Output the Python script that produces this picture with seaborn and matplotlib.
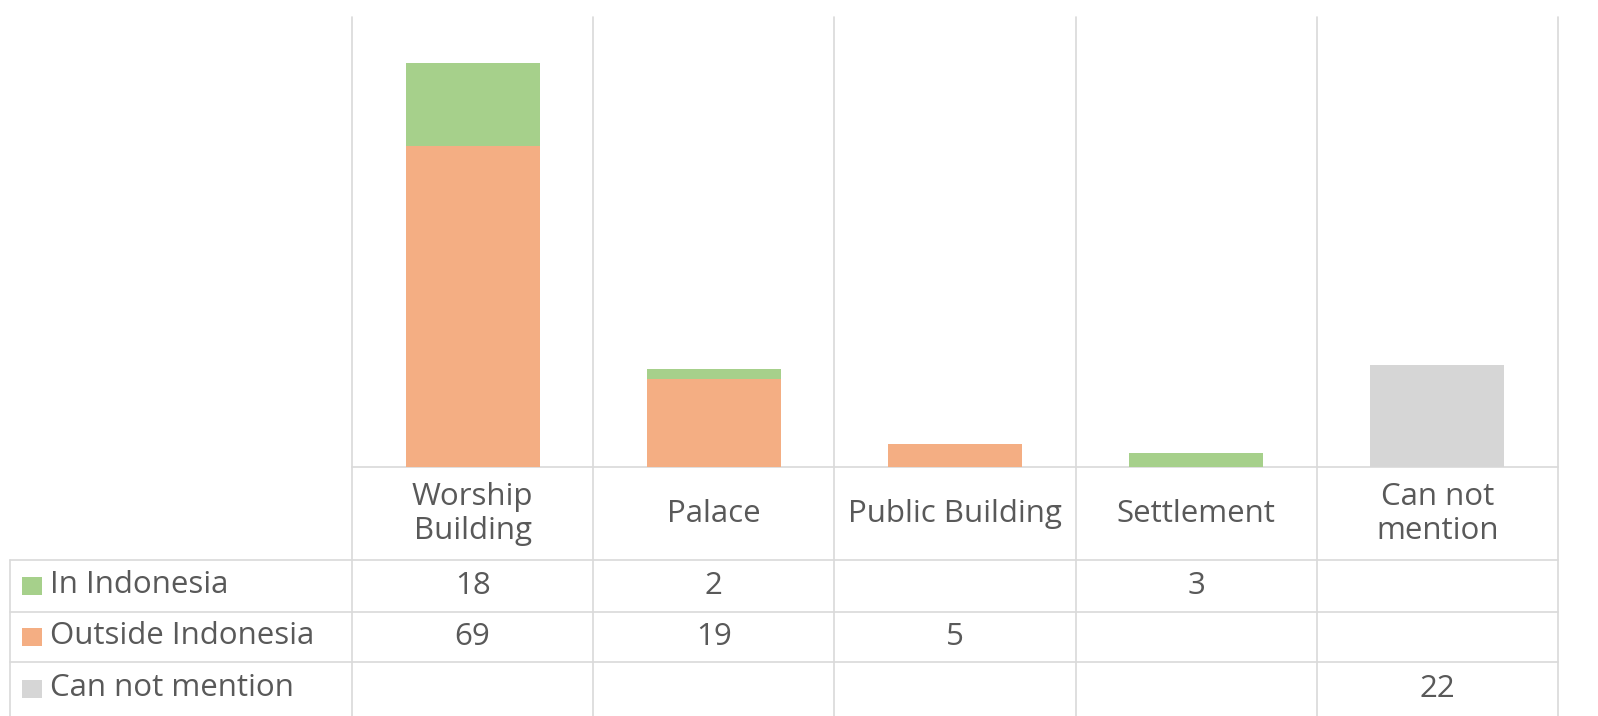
import numpy as np
import pandas as pd
import matplotlib.pyplot as plt
import seaborn as sns

sns.set_theme(style='white')
plt.rcParams['font.family'] = ['Open Sans', 'DejaVu Sans']

categories = ['Worship\nBuilding', 'Palace', 'Public Building', 'Settlement',
              'Can not\nmention']
in_indonesia = [18, 2, None, 3, None]
outside_indonesia = [69, 19, 5, None, None]
can_not_mention = [None, None, None, None, 22]
series_names = ['In Indonesia', 'Outside Indonesia', 'Can not mention']
colors = ['#a6d08b', '#f4ae83', '#d6d6d6']

W, H = 1598, 716
GRID = '#d9d9d9'
TXT = '#595959'
FS = 22.5

df = pd.DataFrame({'category': categories,
                   'in': in_indonesia,
                   'out': outside_indonesia,
                   'cnm': can_not_mention}).astype({'in': float, 'out': float,
                                                     'cnm': float})
df['stack'] = df['in'].fillna(0) + df['out'].fillna(0)
df['out0'] = df['out'].fillna(0)
df['cnm0'] = df['cnm'].fillna(0)

fig = plt.figure(figsize=(W / 100, H / 100), dpi=100)

# background axes in pixel units for the table grid and text
bg = fig.add_axes([0, 0, 1, 1])
bg.set_xlim(0, W)
bg.set_ylim(H, 0)
bg.axis('off')

left, col_w, base, top = 352, 241.2, 467, 17
n = len(categories)
right = left + col_w * n
for k in range(n + 1):
    bg.plot([left + col_w * k] * 2, [top, H], color=GRID, lw=1.2)
bg.plot([10, 10], [560, H], color=GRID, lw=1.2)
bg.plot([left, right], [base, base], color=GRID, lw=1.2)
for y in [560, 612, 662]:
    bg.plot([10, right], [y, y], color=GRID, lw=1.2)

centers = [left + col_w * (i + 0.5) for i in range(n)]
for c, lab in zip(centers, categories):
    bg.text(c, 514, lab, ha='center', va='center', fontsize=FS,
            color=TXT, linespacing=1.2)

rows = [in_indonesia, outside_indonesia, can_not_mention]
row_mid = [586, 637, 689]
for name, vals, col, y in zip(series_names, rows, colors, row_mid):
    bg.add_patch(plt.Rectangle((22, y - 9), 20, 18, color=col, lw=0))
    bg.text(50, y - 1, name, ha='left', va='center', fontsize=FS, color=TXT)
    for c, v in zip(centers, vals):
        if v is not None:
            bg.text(c, y, str(v), ha='center', va='center', fontsize=FS,
                    color=TXT)

# the bars
ax = fig.add_axes([left / W, 1 - base / H, (right - left) / W, (base - top) / H])
ax.patch.set_alpha(0)
kw = dict(saturation=1, width=0.556, linewidth=0, ax=ax)
sns.barplot(data=df, x='category', y='stack', color=colors[0], **kw)
sns.barplot(data=df, x='category', y='out0', color=colors[1], **kw)
sns.barplot(data=df, x='category', y='cnm0', color=colors[2], **kw)
ax.set_xlim(-0.5, n - 0.5)
ax.set_ylim(0, 96.8)
ax.axis('off')

fig.savefig('out.png', dpi=100)
